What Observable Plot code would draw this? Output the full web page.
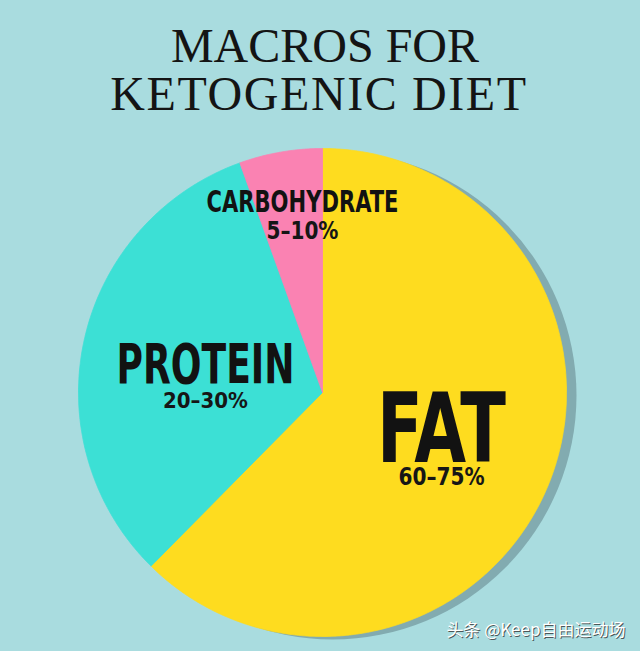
<!DOCTYPE html>
<html><head><meta charset="utf-8">
<script src="https://cdn.jsdelivr.net/npm/d3@7"></script>
<script src="https://cdn.jsdelivr.net/npm/@observablehq/plot@0.6"></script>
<style>
html,body{margin:0;padding:0;background:#a9dcdf;}
#title{height:130px;box-sizing:border-box;padding-top:22px;font-family:"Liberation Serif","Times New Roman",serif;font-size:48px;line-height:48px;color:#141414;}
#title div{white-space:nowrap;text-align:center;position:relative;}
#t1{left:5px;}
#t2{left:-1px;letter-spacing:1.6px;}
#chart{height:521px;}
</style></head><body>
<div id="title"><div id="t1">MACROS FOR</div><div id="t2">KETOGENIC DIET</div></div>
<div id="chart"></div>
<script>
// ---- data ----
const categories = ["FAT", "PROTEIN", "CARBOHYDRATE"];
const shares = [62.4, 32.1, 5.5];
const ranges = ["60–75%", "20–30%", "5–10%"];
const colors = ["#fedc1f", "#3ce0d5", "#fa82b2"];
const source = "头条 @Keep自由运动场";

// ---- layout / style ----
const W = 640, H = 521;
const cx = 322, cy = 262, R = 244;
const bg = "#a9dcdf", shadowColor = "#82abb0";
const labelFont = '"DejaVu Sans Condensed", "DejaVu Sans", sans-serif';
const labelLayout = [
  {k: 0.523, dx: 1,  nameSize: 96, nameDy: 21, nameW: 129, rangeSize: 24, rangeDy: 44, rangeW: 86},
  {k: 0.491, dx: 0,  nameSize: 56, nameDy: 16, nameW: 178, rangeSize: 22, rangeDy: 41, rangeW: 85},
  {k: 0.740, dx: 11, nameSize: 30, nameDy: -3, nameW: 192, rangeSize: 25, rangeDy: 24, rangeW: 72}
];

// ---- slices (unit circle, y up) ----
const arcs = d3.pie().sort(null).value(d => d)(shares);
const slicePts = [];
arcs.forEach((p, i) => {
  const name = categories[i];
  slicePts.push({name, x: 0, y: 0});
  const n = Math.max(4, Math.ceil((p.endAngle - p.startAngle) / (Math.PI / 720)));
  for (let j = 0; j <= n; j++) {
    const a = p.startAngle + (p.endAngle - p.startAngle) * j / n;
    slicePts.push({name, x: Math.sin(a), y: Math.cos(a)});
  }
  slicePts.push({name, x: 0, y: 0});
});

const labelMarks = [];
const widths = {};
arcs.forEach((p, i) => {
  const L = labelLayout[i];
  const mid = (p.startAngle + p.endAngle) / 2;
  const ux = L.k * Math.sin(mid), uy = L.k * Math.cos(mid);
  widths[categories[i]] = L.nameW;
  widths[ranges[i]] = L.rangeW;
  labelMarks.push(Plot.text([i], {x: () => ux, y: () => uy, text: d => categories[d],
    dx: L.dx, dy: L.nameDy, fontSize: L.nameSize, fontWeight: "bold", fontFamily: labelFont,
    fill: "#121212", textAnchor: "middle", lineAnchor: "bottom"}));
  labelMarks.push(Plot.text([i], {x: () => ux, y: () => uy, text: d => ranges[d],
    dx: L.dx, dy: L.rangeDy, fontSize: L.rangeSize, fontWeight: "bold", fontFamily: labelFont,
    fill: "#161616", textAnchor: "middle", lineAnchor: "bottom"}));
});

const plot = Plot.plot({
  width: W, height: H, margin: 0,
  x: {domain: [-1, 1], range: [cx - R, cx + R], axis: null},
  y: {domain: [-1, 1], range: [cy + R, cy - R], axis: null},
  color: {domain: categories, range: colors},
  style: {background: bg, overflow: "visible"},
  marks: [
    Plot.dot([0], {x: () => 0, y: () => 0, r: R, fill: shadowColor, dx: 10, dy: 3}),
    Plot.line(slicePts, {x: "x", y: "y", z: "name", fill: "name", stroke: "name", strokeWidth: 0.8, curve: "linear"}),
    ...labelMarks,
    Plot.text([source], {frameAnchor: "bottom-right", text: d => d, dx: -14, dy: -15, textAnchor: "end", lineAnchor: "bottom",
      fontSize: 17, fontFamily: '"Noto Sans CJK SC", sans-serif', fill: "#333", fillOpacity: 0.8}),
    Plot.text([source], {frameAnchor: "bottom-right", text: d => d, dx: -15, dy: -16, textAnchor: "end", lineAnchor: "bottom",
      fontSize: 17, fontFamily: '"Noto Sans CJK SC", sans-serif', fill: "white"})
  ]
});
plot.querySelectorAll("text").forEach(t => {
  const w = widths[t.textContent];
  if (w) { t.setAttribute("textLength", w); t.setAttribute("lengthAdjust", "spacingAndGlyphs"); }
});
document.getElementById("chart").appendChild(plot);
</script>
</body></html>
